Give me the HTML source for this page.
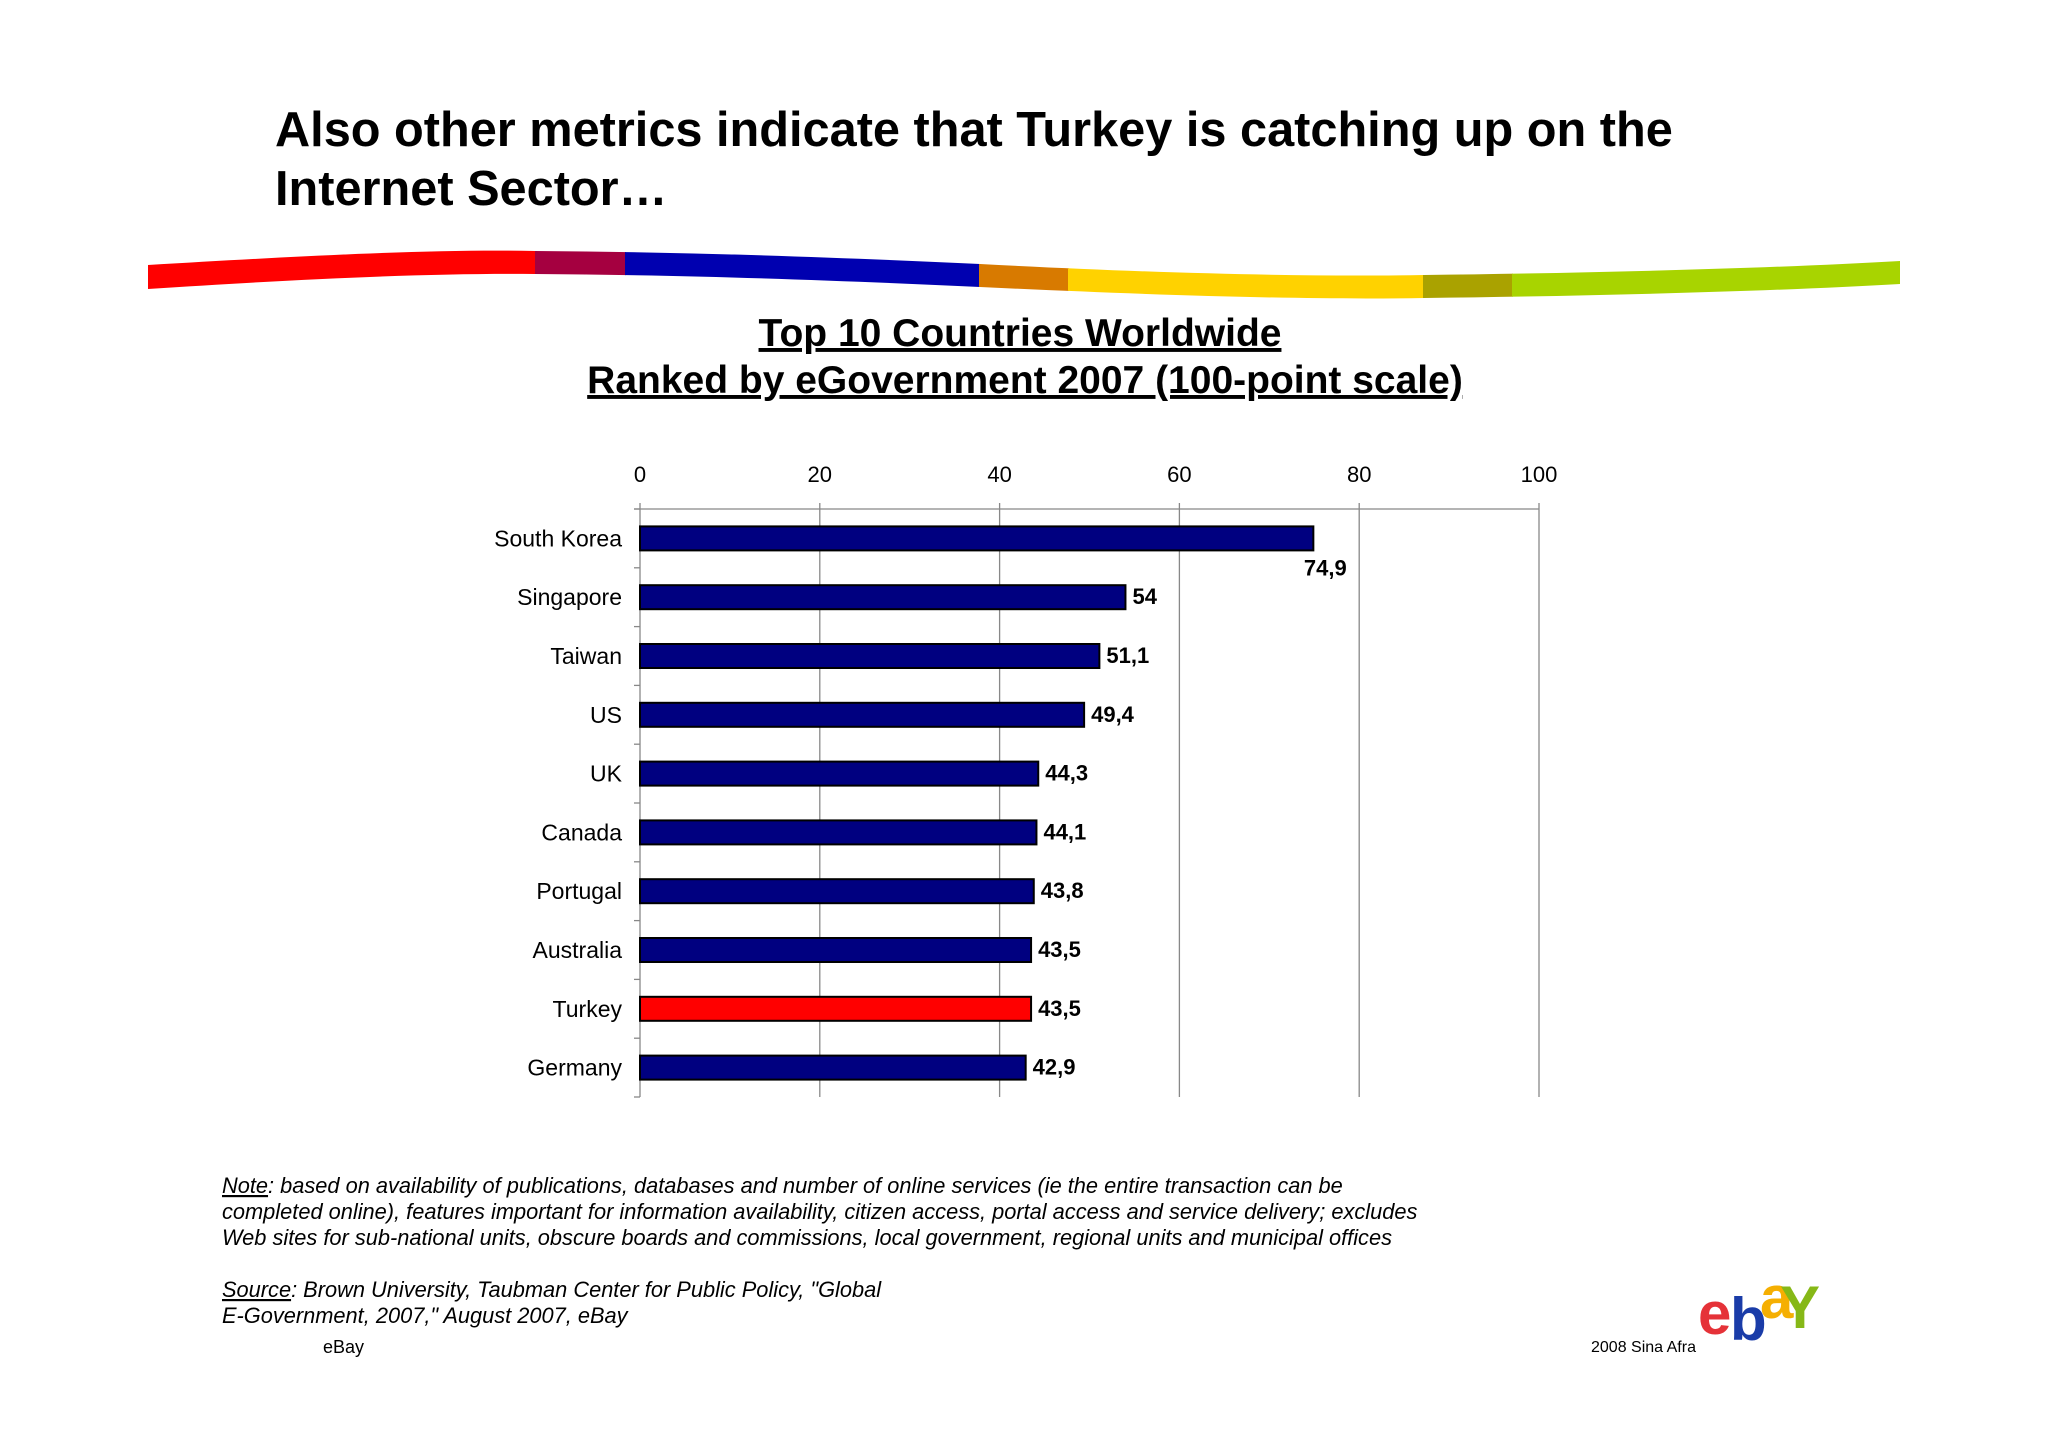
<!DOCTYPE html>
<html><head><meta charset="utf-8"><style>
body{margin:0;background:#fff;}
svg text{font-family:"Liberation Sans",sans-serif;}
</style></head><body>
<svg width="2048" height="1447" viewBox="0 0 2048 1447" xmlns="http://www.w3.org/2000/svg">
<rect width="2048" height="1447" fill="#fff"/>
<text x="275" y="146" font-size="48.7" font-weight="bold">Also other metrics indicate that Turkey is catching up on the</text>
<text x="275" y="205" font-size="48.7" font-weight="bold">Internet Sector…</text>
<defs>
<path id="wave" d="M148,265 C300,256 430,249 535,251 C700,252 850,258 980,264 C1150,273 1300,277 1424,275 C1600,273 1780,268 1900,261 L1900,284 C1780,291 1600,296 1424,298 C1300,300 1150,295 980,287 C850,281 700,275 535,274 C430,273 300,279 148,289 Z"/>
<clipPath id="wc"><use href="#wave"/></clipPath>
</defs>
<g clip-path="url(#wc)">
<rect x="148" y="230" width="388" height="90" fill="#ff0000"/>
<rect x="535" y="230" width="91" height="90" fill="#a50040"/>
<rect x="625" y="230" width="355" height="90" fill="#0000b0"/>
<rect x="979" y="230" width="90" height="90" fill="#d87a00"/>
<rect x="1068" y="230" width="356" height="90" fill="#ffd200"/>
<rect x="1423" y="230" width="90" height="90" fill="#aaa200"/>
<rect x="1512" y="230" width="390" height="90" fill="#a8d400"/>
</g>
<text x="1020" y="346" font-size="39" font-weight="bold" text-anchor="middle" text-decoration="underline">Top 10 Countries Worldwide</text>
<text x="1025" y="393" font-size="39" font-weight="bold" text-anchor="middle" text-decoration="underline">Ranked by eGovernment 2007 (100-point scale)</text>
<g id="chart"></g>
<g font-size="21.8" font-style="italic" fill="#000">
<text x="222" y="1193"><tspan text-decoration="underline">Note</tspan>: based on availability of publications, databases and number of online services (ie the entire transaction can be</text>
<text x="222" y="1219">completed online), features important for information availability, citizen access, portal access and service delivery; excludes</text>
<text x="222" y="1245">Web sites for sub-national units, obscure boards and commissions, local government, regional units and municipal offices</text>
</g>
<g font-size="21.8" font-style="italic">
<text x="222" y="1297"><tspan text-decoration="underline">Source</tspan>: Brown University, Taubman Center for Public Policy, "Global</text>
<text x="222" y="1323">E-Government, 2007," August 2007, eBay</text>
</g>
<text x="323" y="1353" font-size="18">eBay</text>
<text x="1591" y="1352" font-size="16">2008 Sina Afra</text>
<g font-weight="bold" font-size="60">
<text x="1698" y="1334" fill="#e53238">e</text>
<text x="1730" y="1340" fill="#1a3ca8">b</text>
<text x="1760" y="1318" fill="#f5af02">a</text>
<text x="1780" y="1328" fill="#86b817">Y</text>
</g>
<script>
const categories=["South Korea","Singapore","Taiwan","US","UK","Canada","Portugal","Australia","Turkey","Germany"];
const values=[74.9,54,51.1,49.4,44.3,44.1,43.8,43.5,43.5,42.9];
const valueLabels=["74,9","54","51,1","49,4","44,3","44,1","43,8","43,5","43,5","42,9"];
const ticks=[0,20,40,60,80,100];
const highlight="Turkey";
const NS="http://www.w3.org/2000/svg";
const chartG=document.getElementById('chart');
const x0=640,x1=1539,plotTop=509,plotBottom=1097;
const band=(plotBottom-plotTop)/categories.length;
const xs=v=>x0+(x1-x0)*v/100;
function mk(t,a){const e=document.createElementNS(NS,t);for(const k in a)e.setAttribute(k,a[k]);chartG.appendChild(e);return e;}
ticks.forEach(t=>{
 const gl=mk('line',{x1:xs(t),x2:xs(t),y1:plotTop-6,y2:plotBottom,stroke:'#888','stroke-width':1.3});
 
 
 const tl=mk('text',{x:xs(t),y:482,'font-size':22,'text-anchor':'middle'});
 tl.textContent=t;
 
 
});
mk('line',{x1:x0-6,x2:x1,y1:plotTop,y2:plotTop,stroke:'#888','stroke-width':1.3});
for(let i=0;i<=categories.length;i++){mk('line',{x1:x0-6,x2:x0,y1:plotTop+i*band,y2:plotTop+i*band,stroke:'#888','stroke-width':1.3});}
categories.forEach((c,i)=>{
 const cy=plotTop+band*(i+0.5);
 const r=mk('rect',{x:x0,y:cy-12,width:xs(values[i])-x0,height:24,fill:c===highlight?'#ff0000':'#000080',stroke:'#000','stroke-width':2});
 
 
 const l=mk('text',{x:x0-18,y:cy+8,'font-size':23,'text-anchor':'end'});
 l.textContent=c;
 
 
 const v=mk('text',{x:i===0?xs(values[i])+12:xs(values[i])+7,y:i===0?cy+37:cy+7,'font-size':22,'font-weight':'bold','text-anchor':i===0?'middle':'start'});
 v.textContent=valueLabels[i];
 
 
});
</script>
</svg>
</body></html>
